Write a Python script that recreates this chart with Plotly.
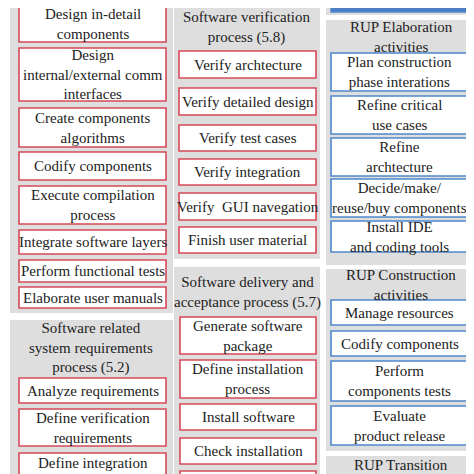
import plotly.graph_objects as go

# text content of the diagram
col1_top_items = ["Design in-detail<br>components", "Design<br>internal/external comm<br>interfaces",
                  "Create components<br>algorithms", "Codify components", "Execute compilation<br>process",
                  "Integrate software layers", "Perform functional tests", "Elaborate user manuals"]
col1_bot_title = "Software related<br>system requirements<br>process (5.2)"
col1_bot_items = ["Analyze requirements", "Define verification<br>requirements", "Define integration<br>requirements"]

col2_top_title = "Software verification<br>process (5.8)"
col2_top_items = ["Verify archtecture", "Verify detailed design", "Verify test cases", "Verify integration",
                  "Verify  GUI navegation", "Finish user material"]
col2_bot_title = "Software delivery and<br>acceptance process (5.7)"
col2_bot_items = ["Generate software<br>package", "Define installation<br>process", "Install software",
                  "Check installation", "Document install"]

col3_a_title = "RUP Elaboration<br>activities"
col3_a_items = ["Plan construction<br>phase interations", "Refine critical<br>use cases", "Refine<br>archtecture",
                "Decide/make/<br>reuse/buy components", "Install IDE<br>and coding tools"]
col3_b_title = "RUP Construction<br>activities"
col3_b_items = ["Manage resources", "Codify components", "Perform<br>components tests", "Evaluate<br>product release"]
col3_c_title = "RUP Transition<br>activities"

# layout (pixel positions)
RED, BLUE, GRAY = "#d6495a", "#4d88cc", "#dedede"
FONT = "Liberation Serif, DejaVu Serif, serif"
FS = 15

panels = [(2, 165, -5, 305), (2, 165, 312, 480), (166, 312, -5, 251), (166, 312, 259, 480),
          (318, 467, -5, 7), (318, 467, 12, 257), (318, 467, 261, 443), (318, 467, 448, 480)]
titles = [(col1_bot_title, 83, 340), (col2_top_title, 239, 19), (col2_bot_title, 239, 284),
          (col3_a_title, 393, 29), (col3_b_title, 393, 277), (col3_c_title, 393, 467)]

groups = [
    (col1_top_items, 11, 158, [(-3, 34), (40, 93), (100, 139), (144, 172), (178, 216), (222, 246), (252, 274), (279, 300)], RED),
    (col1_bot_items, 11, 158, [(370, 395), (401, 438), (445, 485)], RED),
    (col2_top_items, 171, 308, [(43, 70), (80, 107), (117, 143), (151, 177), (185, 212), (219, 245)], RED),
    (col2_bot_items, 172, 308, [(309, 346), (352, 390), (396, 422), (430, 456), (463, 490)], RED),
    (col3_a_items, 323, 460, [(45, 83), (88, 126), (130, 168), (171, 209), (213, 244)], BLUE),
    (col3_b_items, 323, 460, [(292, 317), (323, 348), (353, 393), (398, 437)], BLUE),
]

fig = go.Figure()
shapes, annos = [], []
for x0, x1, y0, y1 in panels:
    shapes.append(dict(type="rect", x0=x0, x1=x1, y0=y0, y1=y1, fillcolor=GRAY, line_width=0, layer="below"))
# filled blue box at the very top right
shapes.append(dict(type="rect", x0=323, x1=461, y0=-5, y1=4, fillcolor="#4a7fc4", line=dict(color=BLUE, width=1.5)))
for txt, x, y in titles:
    annos.append(dict(x=x, y=y, text=txt, showarrow=False, font=dict(family=FONT, size=FS, color="#222")))
for items, x0, x1, boxes, col in groups:
    for txt, (y0, y1) in zip(items, boxes):
        shapes.append(dict(type="rect", x0=x0, x1=x1, y0=y0, y1=y1, fillcolor="white", line=dict(color=col, width=1.6)))
        annos.append(dict(x=(x0 + x1) / 2, y=(y0 + y1) / 2, text=txt, showarrow=False,
                          font=dict(family=FONT, size=FS, color="#222")))

fig.update_layout(width=474, height=474, margin=dict(l=0, r=0, t=0, b=0),
                  plot_bgcolor="white", paper_bgcolor="white", shapes=shapes, annotations=annos,
                  xaxis=dict(range=[0, 474], visible=False, fixedrange=True),
                  yaxis=dict(range=[474, 0], visible=False, fixedrange=True))
fig.write_html("out.html")
